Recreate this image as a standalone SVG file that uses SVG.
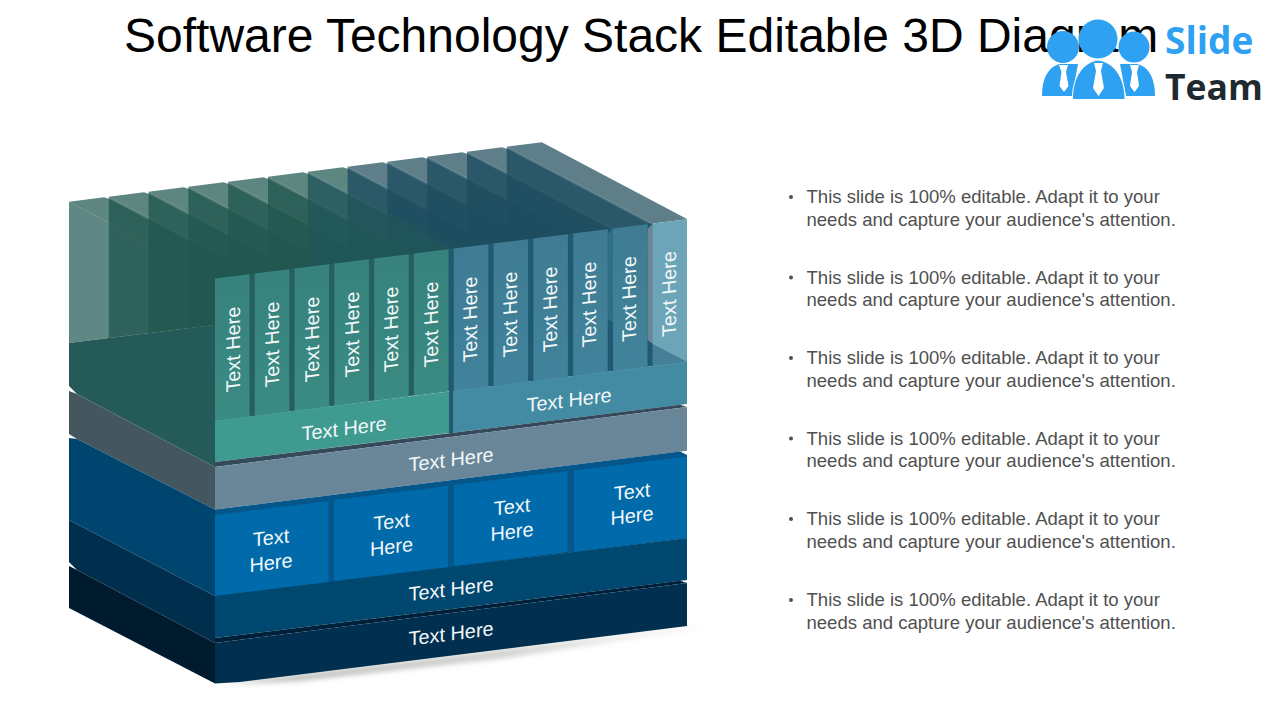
<svg xmlns="http://www.w3.org/2000/svg" width="1280" height="720" viewBox="0 0 1280 720">
<style>
text{font-family:"Liberation Sans",Arial,sans-serif}
.l{fill:#f2f7f8;font-size:19.9px;text-anchor:middle}
.b{fill:#505050;font-size:18.55px}
.tt{fill:#5e8680}.tb{fill:#5e7f89}
.fg{fill:#215750;fill-opacity:.78}.fb{fill:#1d4d60;fill-opacity:.78}
.ct{fill:url(#gt)}.cb{fill:url(#gb)}
.c{fill:#006aab}
.logo{fill:#2ea1f3}.tie{fill:#fff}
</style>
<defs>
<linearGradient id="gt" x1="0" y1="0" x2="0" y2="1"><stop offset="0" stop-color="#37827d"/><stop offset="1" stop-color="#3a8b83"/></linearGradient>
<linearGradient id="gb" x1="0" y1="0" x2="0" y2="1"><stop offset="0" stop-color="#3f7c93"/><stop offset="1" stop-color="#41839b"/></linearGradient>
<linearGradient id="gs" x1="0" y1="0" x2="1" y2="0"><stop offset="0" stop-color="#888" stop-opacity=".6"/><stop offset=".6" stop-color="#aaa" stop-opacity=".5"/><stop offset="1" stop-color="#ccc" stop-opacity=".1"/></linearGradient>
<filter id="blur" x="-10%" y="-50%" width="120%" height="200%"><feGaussianBlur stdDeviation="2.500"/></filter>
</defs>
<rect width="1280" height="720" fill="#fff"/>
<text x="124" y="52" font-size="48" fill="#000">Software Technology Stack Editable 3D Diagram</text>

<g id="stack-shadow"><polygon points="225,684 687,626 706,628 500,659 300,681" fill="url(#gs)" filter="url(#blur)"/></g>

<g id="back-tops">
<polygon class="tt" points="69,201.7 104,197.3 108.8,198.7 254.8,275.5 215,278.5"/>
<polygon class="tt" points="108.8,196.7 143.8,192.3 148.6,193.7 294.6,270.5 254.8,273.5"/>
<polygon class="tt" points="148.6,191.7 183.6,187.3 188.4,188.7 334.4,265.5 294.6,268.5"/>
<polygon class="tt" points="188.4,186.7 223.4,182.3 228.2,183.7 374.2,260.5 334.4,263.5"/>
<polygon class="tt" points="228.2,181.7 263.2,177.3 268,178.7 414,255.5 374.2,258.5"/>
<polygon class="tt" points="268,176.7 303,172.3 307.8,173.7 453.8,250.5 414,253.5"/>
<polygon class="tt" points="307.8,171.7 342.8,167.3 347.6,168.7 493.6,245.5 453.8,248.5"/>
<polygon class="tb" points="347.6,166.7 382.6,162.3 387.4,163.7 533.4,240.5 493.6,243.5"/>
<polygon class="tb" points="387.4,161.7 422.4,157.3 427.2,158.7 573.2,235.5 533.4,238.5"/>
<polygon class="tb" points="427.2,156.7 462.2,152.3 467,153.7 613,230.5 573.2,233.5"/>
<polygon class="tb" points="467,151.7 502,147.3 506.8,148.7 652.8,225.5 613,228.5"/>
<polygon class="tb" points="506.8,146.7 541.8,142.3 687.5,219.3 652.8,223.5"/>
</g>
<g id="back-faces">
<polygon class="fb" points="347.6,166.7 493.6,243.5 493.6,291 347.6,309"/>
<polygon class="fb" points="387.4,161.7 533.4,238.5 533.4,286 387.4,304"/>
<polygon class="fb" points="427.2,156.7 573.2,233.5 573.2,281 427.2,299"/>
<polygon class="fb" points="467,151.7 613,228.5 613,276 467,294"/>
<polygon class="fb" points="506.8,146.7 652.8,223.5 652.8,271 506.8,289"/>
<polygon class="fg" points="69,201.7 215,278.5 215,324.8 69,343" style="fill:#235a55;fill-opacity:.73"/>
<polygon class="fg" points="108.8,196.7 254.8,273.5 254.8,319.8 108.8,338"/>
<polygon class="fg" points="148.6,191.7 294.6,268.5 294.6,314.8 148.6,333"/>
<polygon class="fg" points="188.4,186.7 334.4,263.5 334.4,309.8 188.4,328"/>
<polygon class="fg" points="228.2,181.7 374.2,258.5 374.2,304.8 228.2,323"/>
<polygon class="fg" points="268,176.7 414,253.5 414,299.8 268,318"/>
<polygon points="307.8,171.7 453.8,248.5 453.8,294.8 307.8,313" fill="#20565a" fill-opacity=".78"/>
<polygon points="69,343 215,324.8 215,467 77,394 69,386" fill="#245a58"/>
</g>

<g id="left-faces">
<polygon points="69,391 77,394 215,467 215,509.5 77,439 69,434" fill="#44575f"/>
<polygon points="69,438 77,439 215,509.5 215,596 69,520" fill="#004470"/>
<polygon points="69,520 215,596 215,643 77,570 69,562" fill="#002f4d"/>
<polygon points="69,566 77,570 215,643 215,683.500 69,608" fill="#001a2e"/>
</g>

<g id="front-backing">
<polygon points="215,278.5 452,249 452,433 449,433 449,391 215,421" fill="#25605e"/>
<polygon points="449,249 653,223.5 653,366 453,391 453,433 449,433" fill="#1f5a72"/>
<polygon points="647.5,229 653,223.5 653,344 647.5,340" fill="#6b8795"/>
<polygon points="607.8,234 613,228.5 613,322 607.8,319" fill="#2f6f85"/>
</g>

<g id="col-1"><polygon class="ct" points="215,278.5 249.5,274.2 249.5,416.4 215,420.7"/><text class="l" transform="matrix(0 -1 1 -.125 239.500 348.500)">Text Here</text></g>
<g id="col-2"><polygon class="ct" points="254.8,273.5 289.3,269.2 289.3,411.4 254.8,415.7"/><text class="l" transform="matrix(0 -1 1 -.125 279.200 343.500)">Text Here</text></g>
<g id="col-3"><polygon class="ct" points="294.6,268.5 329.1,264.2 329.1,406.4 294.6,410.7"/><text class="l" transform="matrix(0 -1 1 -.125 318.800 338.500)">Text Here</text></g>
<g id="col-4"><polygon class="ct" points="334.4,263.5 368.9,259.2 368.9,401.4 334.4,405.7"/><text class="l" transform="matrix(0 -1 1 -.125 358.500 333.500)">Text Here</text></g>
<g id="col-5"><polygon class="ct" points="374.2,258.5 408.7,254.2 408.7,396.4 374.2,400.7"/><text class="l" transform="matrix(0 -1 1 -.125 398 328.500)">Text Here</text></g>
<g id="col-6"><polygon class="ct" points="414,253.5 448.5,249.2 448.5,391.4 414,395.7"/><text class="l" transform="matrix(0 -1 1 -.125 437.700 323.500)">Text Here</text></g>
<g id="col-7"><polygon class="cb" points="453.8,248.5 488.3,244.2 488.3,386.7 453.8,391"/><text class="l" transform="matrix(0 -1 1 -.125 477.300 318.500)">Text Here</text></g>
<g id="col-8"><polygon class="cb" points="493.6,243.5 528.1,239.2 528.1,381.7 493.6,386"/><text class="l" transform="matrix(0 -1 1 -.125 517 313.500)">Text Here</text></g>
<g id="col-9"><polygon class="cb" points="533.4,238.5 567.9,234.2 567.9,376.7 533.4,381"/><text class="l" transform="matrix(0 -1 1 -.125 556.600 308.500)">Text Here</text></g>
<g id="col-10"><polygon class="cb" points="573.2,233.5 607.7,229.2 607.7,371.7 573.2,376"/><text class="l" transform="matrix(0 -1 1 -.125 596.300 303.500)">Text Here</text></g>
<g id="col-11"><polygon class="cb" points="613,228.5 647.5,224.2 647.5,366.7 613,371"/><text class="l" transform="matrix(0 -1 1 -.125 635.900 298)">Text Here</text></g>
<g id="col-12"><polygon points="652.8,223.5 687,219.2 687,362 652.8,366" fill="#6da5b8"/><polygon points="652.8,344 687,362 652.8,366" fill="#457f98"/><text class="l" transform="matrix(0 -1 1 -.125 675.600 293)">Text Here</text></g>

<g id="bar-teal"><polygon points="215,420.7 449,391.5 449,433 215,462" fill="#3f9a90"/><text class="l" transform="matrix(1 -.125 0 1 344 435.500)">Text Here</text></g>
<g id="bar-blue"><polygon points="453,391 687,361.7 687,404 453,432.7" fill="#438aa3"/><text class="l" transform="matrix(1 -.125 0 1 569 407)">Text Here</text></g>

<g id="layer-slate"><polygon points="215,462 680,404.800 687,407 215,467" fill="#34495a"/><polygon points="215,467 687,407 687,450.7 215,509.5" fill="#6a8799"/><text class="l" transform="matrix(1 -.125 0 1 451 466.500)">Text Here</text></g>

<g id="layer-cells"><polygon points="215,509.5 680,451.600 687,455 687,538 215,597" fill="#04568b"/></g>
<g id="cell-1"><polygon class="c" points="215,515 328.5,501 328.5,582 215,596"/><text class="l" transform="matrix(1 -.125 0 1 271 544.500)">Text</text><text class="l" transform="matrix(1 -.125 0 1 271 569.500)">Here</text></g>
<g id="cell-2"><polygon class="c" points="334,500 448,486 448,567 334,581"/><text class="l" transform="matrix(1 -.125 0 1 391.500 528.500)">Text</text><text class="l" transform="matrix(1 -.125 0 1 391.500 553.500)">Here</text></g>
<g id="cell-3"><polygon class="c" points="454,485 567.500,471 567.500,552 454,566"/><text class="l" transform="matrix(1 -.125 0 1 512 513.500)">Text</text><text class="l" transform="matrix(1 -.125 0 1 512 538.500)">Here</text></g>
<g id="cell-4"><polygon class="c" points="574,470.500 687,456.500 687,538 574,552"/><text class="l" transform="matrix(1 -.125 0 1 632 498.500)">Text</text><text class="l" transform="matrix(1 -.125 0 1 632 522.500)">Here</text></g>

<g id="layer-band"><polygon points="215,596 687,538 687,580 215,638" fill="#00486f"/><text class="l" transform="matrix(1 -.125 0 1 451 596)">Text Here</text></g>
<g id="layer-base"><polygon points="215,638 680,580.800 687,583 215,643" fill="#001f38"/><polygon points="215,643 687,583 687,626 240,682 215,683.500" fill="#002f4f"/><text class="l" transform="matrix(1 -.125 0 1 451 640.500)">Text Here</text></g>

<g id="bullets">
<g id="bullet-1"><circle cx="791" cy="197" r="2" fill="#505050"/><text class="b" x="806.500" y="203">This slide is 100% editable. Adapt it to your</text><text class="b" x="806.500" y="225.500">needs and capture your audience's attention.</text></g>
<g id="bullet-2"><circle cx="791" cy="277.500" r="2" fill="#505050"/><text class="b" x="806.500" y="283.500">This slide is 100% editable. Adapt it to your</text><text class="b" x="806.500" y="306">needs and capture your audience's attention.</text></g>
<g id="bullet-3"><circle cx="791" cy="358" r="2" fill="#505050"/><text class="b" x="806.500" y="364">This slide is 100% editable. Adapt it to your</text><text class="b" x="806.500" y="386.500">needs and capture your audience's attention.</text></g>
<g id="bullet-4"><circle cx="791" cy="438.500" r="2" fill="#505050"/><text class="b" x="806.500" y="444.500">This slide is 100% editable. Adapt it to your</text><text class="b" x="806.500" y="467">needs and capture your audience's attention.</text></g>
<g id="bullet-5"><circle cx="791" cy="519" r="2" fill="#505050"/><text class="b" x="806.500" y="525">This slide is 100% editable. Adapt it to your</text><text class="b" x="806.500" y="547.500">needs and capture your audience's attention.</text></g>
<g id="bullet-6"><circle cx="791" cy="600" r="2" fill="#505050"/><text class="b" x="806.500" y="606">This slide is 100% editable. Adapt it to your</text><text class="b" x="806.500" y="628.500">needs and capture your audience's attention.</text></g>
</g>

<g id="logo">
<circle class="logo" cx="1063" cy="47" r="16"/>
<circle class="logo" cx="1134" cy="47" r="15.500"/>
<path class="logo" d="M1042 96 C1042 76 1050 66 1060 64 L1078 64 L1072 96 Z"/>
<path class="logo" d="M1155 96 C1155 76 1147 66 1137 64 L1120 64 L1126 96 Z"/>
<polygon class="tie" points="1059,65 1068,65 1066,72 1068.500,86 1064,92 1059.500,86 1061.500,72"/>
<polygon class="tie" points="1130,65 1139,65 1137,72 1139,86 1134.500,92 1130,86 1132,72"/>
<circle class="logo" cx="1098" cy="39" r="19.500"/>
<path class="logo" d="M1072.500 99.500 C1072 76 1084 62 1098 60 C1113 62 1125 76 1125 99.500 Z" stroke="#fff" stroke-width="1"/>
<polygon class="tie" points="1094,63 1103,63 1101,71 1104,88 1098.500,96 1093,88 1096,71"/>
<text x="1165" y="54" font-weight="700" font-size="37" fill="#2ea1f3" style="font-family:'Open Sans',sans-serif">Slide</text>
<text x="1165" y="100" font-size="35.500" font-weight="700" fill="#1f2a30" style="font-family:'Open Sans',sans-serif">Team</text>
</g>
</svg>
